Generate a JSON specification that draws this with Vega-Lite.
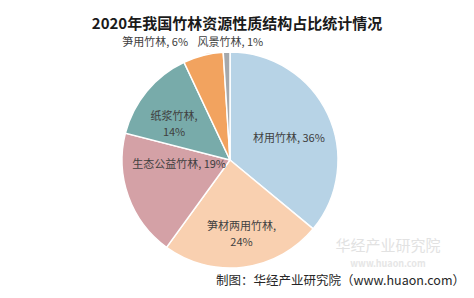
{
  "$schema": "https://vega.github.io/schema/vega-lite/v6.json",
  "width": 474,
  "height": 298,
  "autosize": {"type": "none"},
  "padding": 0,
  "background": "white",
  "config": {
    "view": {"stroke": "#bfbfbf", "strokeWidth": 1.5},
    "font": "Noto Sans CJK SC",
    "text": {"font": "Noto Sans CJK SC", "fontSize": 11, "color": "#404040", "lineBreak": "\n", "lineHeight": 16, "align": "center", "baseline": "middle"}
  },
  "title": {
    "text": "2020年我国竹林资源性质结构占比统计情况",
    "font": "Noto Sans CJK SC",
    "fontSize": 15,
    "fontWeight": "bold",
    "color": "#1a1a1a",
    "anchor": "middle",
    "frame": "group",
    "offset": -32
  },
  "data": {
    "values": [
      {"idx": 1, "cat": "材用竹林", "value": 36, "label": "材用竹林, 36%"},
      {"idx": 2, "cat": "笋材两用竹林", "value": 24, "label": "笋材两用竹林,\n24%"},
      {"idx": 3, "cat": "生态公益竹林", "value": 19, "label": "生态公益竹林, 19%"},
      {"idx": 4, "cat": "纸浆竹林", "value": 14, "label": "纸浆竹林,\n14%"},
      {"idx": 5, "cat": "笋用竹林", "value": 6, "label": "笋用竹林, 6%"},
      {"idx": 6, "cat": "风景竹林", "value": 1, "label": "风景竹林, 1%"}
    ]
  },
  "layer": [
    {
      "mark": {"type": "arc", "outerRadius": 108, "stroke": "white", "strokeWidth": 1.5, "x": {"expr": "width/2-7"}, "y": {"expr": "height/2+11"}},
      "encoding": {
        "theta": {"field": "value", "type": "quantitative", "stack": true},
        "order": {"field": "idx", "type": "quantitative"},
        "color": {
          "field": "cat", "type": "nominal", "legend": null,
          "scale": {
            "domain": ["材用竹林", "笋材两用竹林", "生态公益竹林", "纸浆竹林", "笋用竹林", "风景竹林"],
            "range": ["#b7d3e6", "#f9d0b0", "#d4a1a6", "#78abaa", "#f2a35f", "#a5a8ab"]
          }
        }
      }
    },
    {
      "mark": {"type": "text", "radius": 64, "dx": 1, "dy": 6, "x": {"expr": "width/2-7"}, "y": {"expr": "height/2+11"}},
      "encoding": {
        "theta": {"field": "value", "type": "quantitative", "stack": true},
        "order": {"field": "idx", "type": "quantitative"},
        "text": {"condition": {"test": "datum.cat === '材用竹林'", "field": "label"}, "value": ""}
      }
    },
    {
      "mark": {"type": "text", "radius": 68, "dx": 3, "dy": 0, "x": {"expr": "width/2-7"}, "y": {"expr": "height/2+11"}},
      "encoding": {
        "theta": {"field": "value", "type": "quantitative", "stack": true},
        "order": {"field": "idx", "type": "quantitative"},
        "text": {"condition": {"test": "datum.cat === '笋材两用竹林'", "field": "label"}, "value": ""}
      }
    },
    {
      "mark": {"type": "text", "radius": 52, "dx": -2, "dy": -13, "x": {"expr": "width/2-7"}, "y": {"expr": "height/2+11"}},
      "encoding": {
        "theta": {"field": "value", "type": "quantitative", "stack": true},
        "order": {"field": "idx", "type": "quantitative"},
        "text": {"condition": {"test": "datum.cat === '生态公益竹林'", "field": "label"}, "value": ""}
      }
    },
    {
      "mark": {"type": "text", "radius": 70, "dx": -2, "dy": 2, "x": {"expr": "width/2-7"}, "y": {"expr": "height/2+11"}},
      "encoding": {
        "theta": {"field": "value", "type": "quantitative", "stack": true},
        "order": {"field": "idx", "type": "quantitative"},
        "text": {"condition": {"test": "datum.cat === '纸浆竹林'", "field": "label"}, "value": ""}
      }
    },
    {
      "mark": {"type": "text", "radius": 120, "dx": -45, "dy": -1, "x": {"expr": "width/2-7"}, "y": {"expr": "height/2+11"}},
      "encoding": {
        "theta": {"field": "value", "type": "quantitative", "stack": true},
        "order": {"field": "idx", "type": "quantitative"},
        "text": {"condition": {"test": "datum.cat === '笋用竹林'", "field": "label"}, "value": ""}
      }
    },
    {
      "mark": {"type": "text", "radius": 117, "dx": 4, "dy": 0, "x": {"expr": "width/2-7"}, "y": {"expr": "height/2+11"}},
      "encoding": {
        "theta": {"field": "value", "type": "quantitative", "stack": true},
        "order": {"field": "idx", "type": "quantitative"},
        "text": {"condition": {"test": "datum.cat === '风景竹林'", "field": "label"}, "value": ""}
      }
    },
    {
      "data": {"values": [{"t": "华经产业研究院"}]},
      "mark": {"type": "text", "fontSize": 15, "color": "#e2e2e2", "x": {"expr": "width-86"}, "y": {"expr": "height-52"}},
      "encoding": {"text": {"field": "t"}}
    },
    {
      "data": {"values": [{"t": "www.huaon.com"}]},
      "mark": {"type": "text", "fontSize": 9, "fontWeight": "bold", "letterSpacing": 2.5, "color": "#e6e6e6", "x": {"expr": "width-86"}, "y": {"expr": "height-34"}},
      "encoding": {"text": {"field": "t"}}
    },
    {
      "data": {"values": [{"t": "制图：华经产业研究院（www.huaon.com）"}]},
      "mark": {"type": "text", "fontSize": 12.5, "color": "#262626", "align": "right", "x": {"expr": "width-9"}, "y": {"expr": "height-17"}},
      "encoding": {"text": {"field": "t"}}
    }
  ]
}
